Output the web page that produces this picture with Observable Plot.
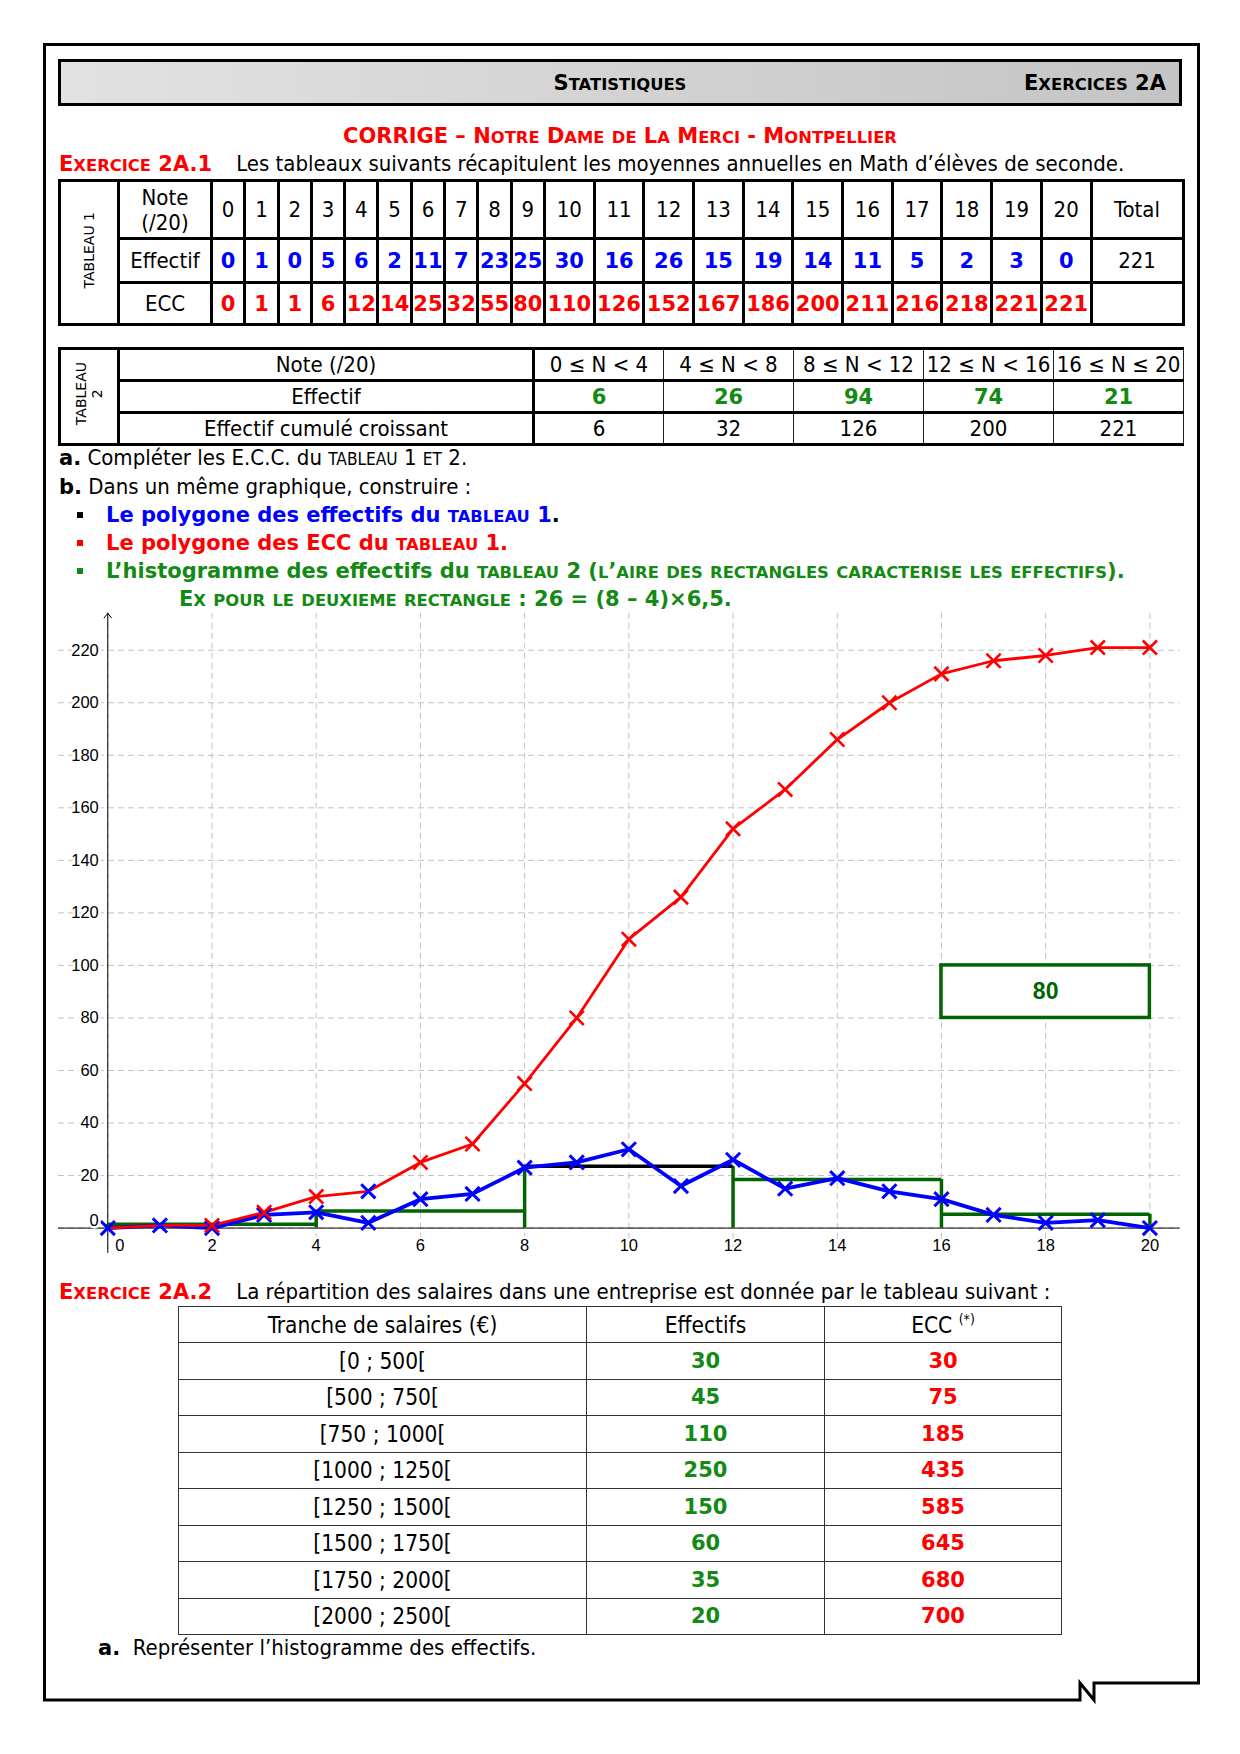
<!DOCTYPE html>
<html lang="fr">
<head>
<meta charset="utf-8">
<script src="https://cdn.jsdelivr.net/npm/d3@7"></script>
<script src="https://cdn.jsdelivr.net/npm/@observablehq/plot@0.6"></script>
<style>
  html, body { margin: 0; padding: 0; background: #fff; }
  body { width: 1240px; height: 1754px; position: relative; overflow: hidden;
         font-family: "DejaVu Sans Condensed", "DejaVu Sans", sans-serif; color: #000; }
  .abs { position: absolute; white-space: nowrap; }
  .b { font-weight: bold; font-family: "DejaVu Sans", sans-serif; }
  .reg { font-size: 22px; line-height: 28px; }
  .bld { font-size: 21px; line-height: 28px; }
  .red { color: #f00; }
  .blue { color: #00f; }
  .green { color: #138a13; }
  table { border-collapse: collapse; table-layout: fixed; position: absolute; }
  td { padding: 0; text-align: center; overflow: hidden; white-space: nowrap; }
  #t1 td { border: 3px solid #000; font-size: 22px; }
  #t1 td.b { font-size: 21px; }
  #t2 td { border: 3px solid #000; font-size: 22px; }
  #t2 td.b { font-size: 21px; }
  #t2 td.thin { border-left: 1px solid #222; border-right: 1px solid #222; }
  #t3 td { border: 1.5px solid #333; font-size: 22.5px; }
  #t3 td.b { font-size: 21px; }
  .vert { display: inline-block; writing-mode: vertical-rl; transform: rotate(180deg);
          font-family: "DejaVu Sans", sans-serif; font-size: 14px; line-height: 16px; text-align: center; }
  .bullet { position: absolute; width: 6px; height: 6px; }
  .gap { display: inline-block; width: 24px; }
</style>
</head>
<body>
<svg class="abs" style="left:0;top:0" width="1240" height="1754">
  <path d="M44.5 44.5 H1198.5 V1683 H1094 V1700 L1080 1683 V1700 H44.5 Z" fill="none" stroke="#000" stroke-width="3"/>
</svg>
<div class="abs" style="left:58px;top:59px;width:1118px;height:41px;border:3px solid #000;background:linear-gradient(90deg,#e2e2e2,#c4c4c4);"></div>
<div class="abs b sc" style="left:0;top:63px;width:1240px;text-align:center;font-size:21px;line-height:40px;">Statistiques</div>
<div class="abs b sc" style="right:74px;top:63px;font-size:21px;line-height:40px;">Exercices 2A</div>

<div class="abs b red" style="left:0;top:122px;width:1240px;text-align:center;font-size:21px;line-height:28px;">CORRIGE – <span class="sc">Notre Dame de La Merci - Montpellier</span></div>
<div class="abs reg" style="left:59px;top:150px;"><span class="b sc red bld">Exercice 2A.1</span><span class="gap"></span>Les tableaux suivants récapitulent les moyennes annuelles en Math d’élèves de seconde.</div>

<table id="t1" style="left:58px;top:179px;width:1124px;"></table>
<table id="t2" style="left:58px;top:347px;width:1124px;"></table>

<div class="abs reg" style="left:59px;top:444px;"><span class="b bld">a.</span> Compléter les E.C.C. du <span class="sc">tableau 1 et 2.</span></div>
<div class="abs reg" style="left:59px;top:473px;"><span class="b bld">b.</span> Dans un même graphique, construire :</div>
<div class="bullet" style="left:77px;top:512px;background:#000"></div>
<div class="abs b blue bld" style="left:106px;top:501px;">Le polygone des effectifs du <span class="sc">tableau 1</span><span style="color:#000">.</span></div>
<div class="bullet" style="left:77px;top:540px;background:#f00"></div>
<div class="abs b red bld" style="left:106px;top:529px;">Le polygone des ECC du <span class="sc">tableau 1.</span></div>
<div class="bullet" style="left:77px;top:568px;background:#138a13"></div>
<div class="abs b green bld" style="left:106px;top:557px;">L’histogramme des effectifs du <span class="sc">tableau 2 (l’aire des rectangles caracterise les effectifs).</span></div>
<div class="abs b green sc bld" style="left:179px;top:585px;">Ex pour le deuxieme rectangle : 26 = (8 – 4)×6,5.</div>

<div id="chart" class="abs" style="left:0;top:590px;"></div>

<div class="abs reg" style="left:59px;top:1278px;"><span class="b sc red bld">Exercice 2A.2</span><span class="gap"></span>La répartition des salaires dans une entreprise est donnée par le tableau suivant :</div>
<table id="t3" style="left:178px;top:1306px;width:883px;"></table>
<div class="abs reg" style="left:98px;top:1634px;"><span class="b bld">a.</span>&nbsp; Représenter l’histogramme des effectifs.</div>

<script>
// ---------- Données du tableau 1 ----------
const notes = [0, 1, 2, 3, 4, 5, 6, 7, 8, 9, 10, 11, 12, 13, 14, 15, 16, 17, 18, 19, 20];
const effectifs = [0, 1, 0, 5, 6, 2, 11, 7, 23, 25, 30, 16, 26, 15, 19, 14, 11, 5, 2, 3, 0];
const ecc = [0, 1, 1, 6, 12, 14, 25, 32, 55, 80, 110, 126, 152, 167, 186, 200, 211, 216, 218, 221, 221];
const totalEffectif = 221;
// valeurs telles que tracées sur le graphique (polygone bleu)
const polygoneEffectifs = [0, 1, 0, 5, 6, 2, 11, 13, 23, 25, 30, 16, 26, 15, 19, 14, 11, 5, 2, 3, 0];

// ---------- Données du tableau 2 ----------
const classes = ["0 ≤ N < 4", "4 ≤ N < 8", "8 ≤ N < 12", "12 ≤ N < 16", "16 ≤ N ≤ 20"];
const classesDebut = [0, 4, 8, 12, 16];
const classesFin = [4, 8, 12, 16, 20];
const effectifsClasses = [6, 26, 94, 74, 21];
const eccClasses = [6, 32, 126, 200, 221];

// ---------- Graduations ----------
const xTicks = [0, 2, 4, 6, 8, 10, 12, 14, 16, 18, 20];
const yTicks = [0, 20, 40, 60, 80, 100, 120, 140, 160, 180, 200, 220];

// ---------- Cadre "80" ----------
const cadreLabel = "80";
const cadreX = [16, 20];
const cadreY = [80, 100];

// ---------- Exercice 2A.2 ----------
const tranches = ["[0 ; 500[", "[500 ; 750[", "[750 ; 1000[", "[1000 ; 1250[", "[1250 ; 1500[", "[1500 ; 1750[", "[1750 ; 2000[", "[2000 ; 2500["];
const effectifsSalaires = [30, 45, 110, 250, 150, 60, 35, 20];
const eccSalaires = [30, 75, 185, 435, 585, 645, 680, 700];

// ---------- Petites capitales ----------
function smallCaps(root) {
  const walker = document.createTreeWalker(root, NodeFilter.SHOW_TEXT);
  const nodes = [];
  while (walker.nextNode()) nodes.push(walker.currentNode);
  nodes.forEach(node => {
    const txt = node.nodeValue;
    const frag = document.createDocumentFragment();
    let run = "", low = null;
    const flush = () => {
      if (!run) return;
      if (low) { const s = document.createElement("span"); s.style.fontSize = "0.78em"; s.textContent = run.toUpperCase(); frag.appendChild(s); }
      else frag.appendChild(document.createTextNode(run));
      run = "";
    };
    for (const ch of txt) {
      const isLow = ch !== ch.toUpperCase();
      if (low !== null && isLow !== low) flush();
      low = isLow; run += ch;
    }
    flush();
    node.parentNode.replaceChild(frag, node);
  });
}

// ---------- Tableau 1 ----------
(function () {
  const t = document.getElementById("t1");
  let cols = '<colgroup><col style="width:59px"><col style="width:93px">';
  notes.forEach(n => cols += `<col style="width:${n < 10 ? 33.3 : 49.7}px">`);
  cols += '<col style="width:92px"></colgroup>';
  let r1 = `<tr style="height:58px"><td rowspan="3"><span class="vert">TABLEAU 1</span></td><td style="line-height:25px">Note<br>(/20)</td>`;
  notes.forEach(n => r1 += `<td>${n}</td>`);
  r1 += `<td>Total</td></tr>`;
  let r2 = `<tr style="height:44px"><td>Effectif</td>`;
  effectifs.forEach(v => r2 += `<td class="b blue">${v}</td>`);
  r2 += `<td>${totalEffectif}</td></tr>`;
  let r3 = `<tr style="height:42px"><td>ECC</td>`;
  ecc.forEach(v => r3 += `<td class="b red">${v}</td>`);
  r3 += `<td></td></tr>`;
  t.innerHTML = cols + r1 + r2 + r3;
})();

// ---------- Tableau 2 ----------
(function () {
  const t = document.getElementById("t2");
  let cols = '<colgroup><col style="width:59px"><col style="width:415px">';
  classes.forEach(() => cols += '<col style="width:130px">');
  cols += '</colgroup>';
  let r1 = `<tr style="height:32px"><td rowspan="3"><span class="vert">TABLEAU<br>2</span></td><td>Note (/20)</td>`;
  classes.forEach(c => r1 += `<td class="thin">${c}</td>`);
  let r2 = `</tr><tr style="height:32px"><td>Effectif</td>`;
  effectifsClasses.forEach(v => r2 += `<td class="thin b green">${v}</td>`);
  let r3 = `</tr><tr style="height:32px"><td>Effectif cumulé croissant</td>`;
  eccClasses.forEach(v => r3 += `<td class="thin">${v}</td>`);
  t.innerHTML = cols + r1 + r2 + r3 + "</tr>";
})();

// ---------- Tableau 3 ----------
(function () {
  const t = document.getElementById("t3");
  let h = '<colgroup><col style="width:408px"><col style="width:238px"><col style="width:237px"></colgroup>';
  h += `<tr style="height:36px"><td>Tranche de salaires (€)</td><td>Effectifs</td><td>ECC <sup style="font-size:14px">(*)</sup></td></tr>`;
  tranches.forEach((tr, i) => {
    h += `<tr style="height:36.5px"><td>${tr}</td><td class="b green">${effectifsSalaires[i]}</td><td class="b red">${eccSalaires[i]}</td></tr>`;
  });
  t.innerHTML = h;
})();

document.querySelectorAll(".sc").forEach(smallCaps);

// ---------- Graphique ----------
const green = "#006400";
const points = notes.map((n, i) => ({ note: n, eff: polygoneEffectifs[i], ecc: ecc[i] }));
const bins = classesDebut.map((d, i) => ({ lo: d, hi: classesFin[i], h: effectifsClasses[i] / (classesFin[i] - d), idx: i }));
const bords = [...classesDebut, classesFin[classesFin.length - 1]].map((x, i) => ({
  x, h: Math.max(i > 0 ? bins[i - 1].h : 0, i < bins.length ? bins[i].h : 0)
}));
const cadre = [{ x1: cadreX[0], x2: cadreX[1], y1: cadreY[0], y2: cadreY[1], label: cadreLabel }];

const chart = Plot.plot({
  width: 1240,
  height: 680,
  marginLeft: 58,
  marginRight: 60.4,
  marginTop: 22.7,
  marginBottom: 18,
  x: { domain: [-0.946, 20.58], axis: null },
  y: { domain: [-9.3, 234.1], axis: null },
  style: { fontFamily: "'Liberation Sans', Arial, sans-serif", background: "transparent", overflow: "visible" },
  marks: [
    Plot.ruleY(yTicks, { stroke: "#c2c2c2", strokeWidth: 1, strokeDasharray: "6,4" }),
    Plot.ruleX(xTicks, { stroke: "#c2c2c2", strokeWidth: 1, strokeDasharray: "6,4" }),
    Plot.ruleY([0], { stroke: "#000", strokeWidth: 1 }),
    Plot.arrow([{ x: 0, y1: -9.3, y2: 234.1 }], { x1: "x", x2: "x", y1: "y1", y2: "y2", stroke: "#000", strokeWidth: 1, headLength: 9, headAngle: 75 }),
    // histogramme
    Plot.ruleX(bords, { x: "x", y1: 0, y2: "h", stroke: green, strokeWidth: 3.5 }),
    Plot.ruleY(bins, { x1: "lo", x2: "hi", y: "h", stroke: d => d.idx === 2 ? "#000" : green, strokeWidth: 3.5 }),
    // cadre 80
    Plot.rect(cadre, { x1: "x1", x2: "x2", y1: "y1", y2: "y2", fill: "#fff", stroke: green, strokeWidth: 3.5 }),
    Plot.text(cadre, { x: d => (d.x1 + d.x2) / 2, y: d => (d.y1 + d.y2) / 2, text: "label", fill: green, fontWeight: "bold", fontSize: 23 }),
    // polygones
    Plot.line(points, { x: "note", y: "eff", stroke: "#0000ff", strokeWidth: 3.8 }),
    Plot.line(points, { x: "note", y: "ecc", stroke: "#ff0000", strokeWidth: 2.8 }),
    Plot.dot(points, { x: "note", y: "eff", symbol: "times", r: 6.5, stroke: "#0000ff", strokeWidth: 3 }),
    Plot.dot(points.filter((d, i) => i !== 0 && i !== 1 && i !== 5), { x: "note", y: "ecc", symbol: "times", r: 6.5, stroke: "#ff0000", strokeWidth: 2.6 }),
    Plot.dot(points.filter((d, i) => i === 5), { x: "note", y: "ecc", symbol: "times", r: 6.5, stroke: "#0000ff", strokeWidth: 3 }),
    // étiquettes
    Plot.text(yTicks.filter(d => d > 0), { x: 0, y: d => d, text: d => String(d), textAnchor: "end", dx: -9, fontSize: 16.5, fill: "#000", stroke: "#fff", strokeWidth: 5 }),
    Plot.text([0], { x: 0, y: d => d, text: d => String(d), textAnchor: "end", dx: -9, dy: -7, fontSize: 16.5, fill: "#000", stroke: "#fff", strokeWidth: 5 }),
    Plot.text(xTicks.filter(d => d > 0), { x: d => d, y: 0, text: d => String(d), dy: 18, fontSize: 16.5, fill: "#000", stroke: "#fff", strokeWidth: 5 }),
    Plot.text([0], { x: d => d, y: 0, text: d => String(d), dx: 12, dy: 18, fontSize: 16.5, fill: "#000", stroke: "#fff", strokeWidth: 5 })
  ]
});
document.getElementById("chart").appendChild(chart);
</script>
</body>
</html>
